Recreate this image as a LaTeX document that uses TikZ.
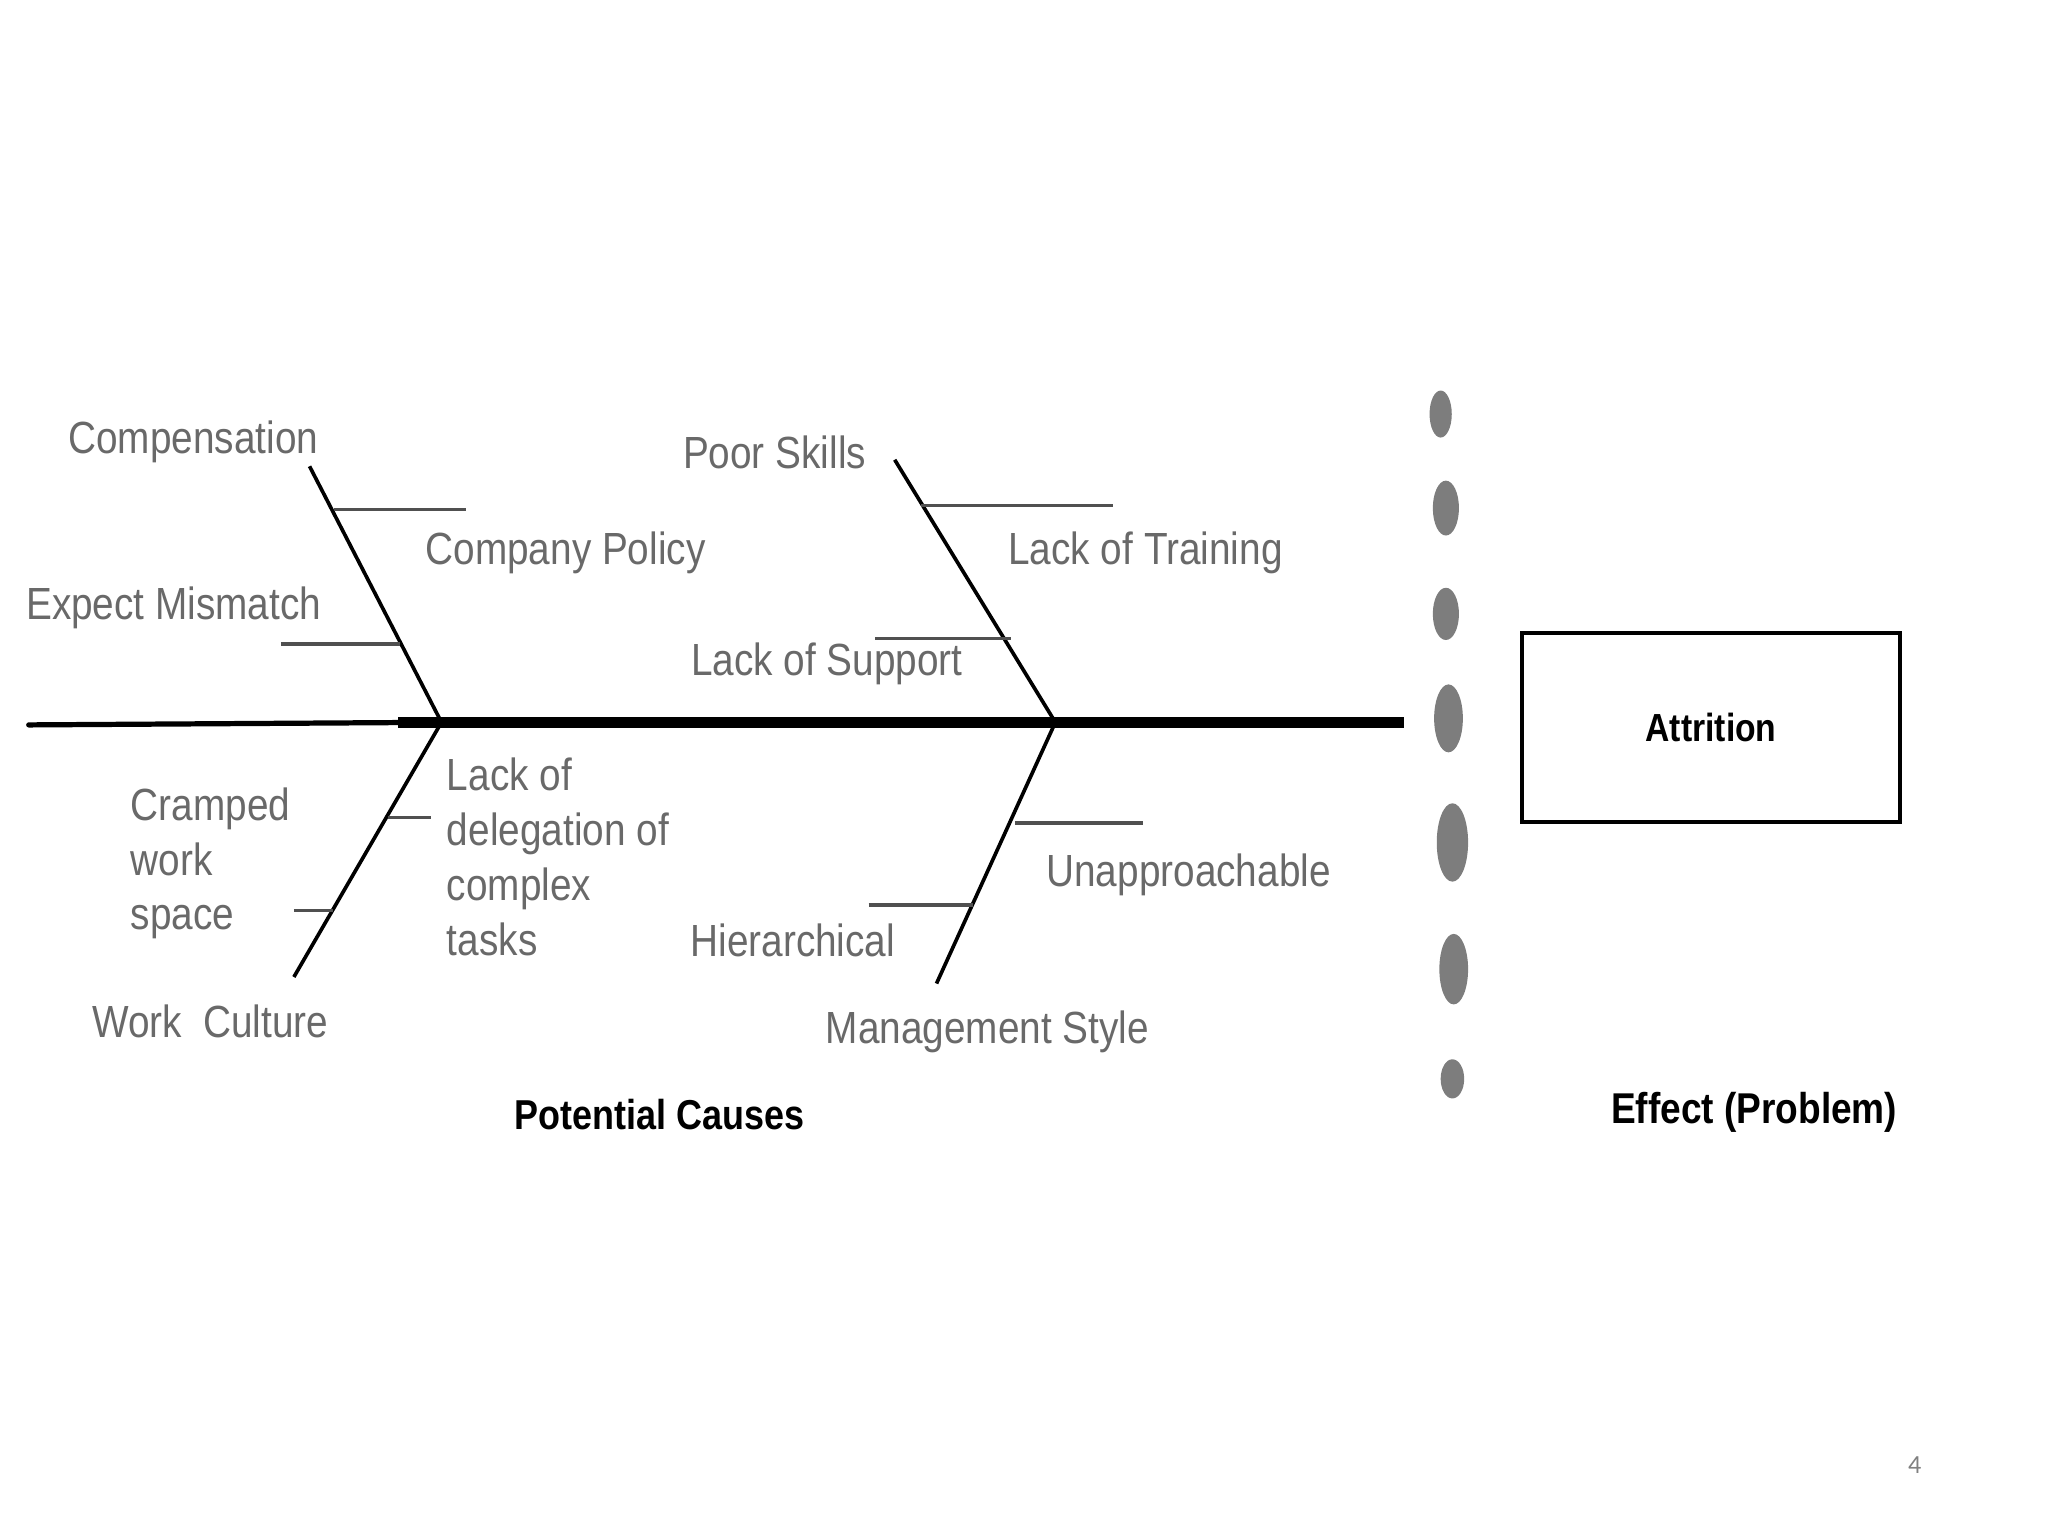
\documentclass[tikz,border=0pt]{standalone}
\usepackage{fontspec}
\setmainfont{Liberation Sans}
\newfontfamily\lblfont[FakeStretch=0.86]{Liberation Sans}
\newfontfamily\pgfont{Carlito}
\definecolor{labelgray}{RGB}{105,105,105}
\definecolor{tickgray}{RGB}{80,80,80}
\definecolor{blobgray}{RGB}{125,125,125}
\begin{document}
\begin{tikzpicture}[x=1pt,y=-1pt,
  lbl/.style={text=labelgray,font=\lblfont\fontsize{34.5}{42}\selectfont,inner sep=0pt},
  bold/.style={text=black,font=\lblfont\bfseries\fontsize{32}{40}\selectfont,inner sep=0pt},
  bone/.style={line width=2.8pt,black},
  rib/.style={line width=2.6pt,tickgray},
  blob/.style={fill=blobgray,draw=none}]
\useasboundingbox (0,0) rectangle (1568,1176);
% spine
\coordinate (sL) at (22,555);
\coordinate (sM) at (305,553);
\coordinate (sJ1) at (338,553);
\coordinate (sJ2) at (808,553);
\coordinate (sR) at (1075,553);
\draw[line width=4pt,line cap=round] (sL) -- (sJ1);
\draw[line width=8pt] (sM) -- (sR);
% branch ends
\coordinate (b1) at (237,357);
\coordinate (b2) at (685,352);
\coordinate (b3) at (225,748);
\coordinate (b4) at (717,753);
\draw[bone] (b1) -- (sJ1);
\draw[bone] (b2) -- (sJ2);
\draw[bone] (b3) -- (sJ1);
\draw[bone] (b4) -- (sJ2);
% ribs
\coordinate (r1a) at (256,390); \coordinate (r1b) at (357,390);
\coordinate (r2a) at (215,493); \coordinate (r2b) at (306,493);
\coordinate (r3a) at (705,387); \coordinate (r3b) at (852,387);
\coordinate (r4a) at (670,489); \coordinate (r4b) at (774,489);
\coordinate (r5a) at (297,626); \coordinate (r5b) at (330,626);
\coordinate (r6a) at (225,697); \coordinate (r6b) at (255,697);
\coordinate (r7a) at (777,630); \coordinate (r7b) at (875,630);
\coordinate (r8a) at (665,693); \coordinate (r8b) at (745,693);
\foreach \a/\b in {r1a/r1b,r2a/r2b,r3a/r3b,r4a/r4b,r5a/r5b,r6a/r6b,r7a/r7b,r8a/r8b}
  \draw[rib] (\a) -- (\b);
% labels
\node[lbl] (comp) at (148,338) {Compensation};
\node[lbl] (cpol) at (433,423) {Company Policy};
\node[lbl] (expm) at (133,465) {Expect Mismatch};
\node[lbl] (poor) at (593,346) {Poor Skills};
\node[lbl] (ltrn) at (877,423) {Lack of Training};
\node[lbl] (lsup) at (633,508) {Lack of Support};
\node[lbl,anchor=west,align=left] (ldel) at (342,656) {Lack of\\delegation of\\complex\\tasks};
\node[lbl,anchor=west,align=left] (cram) at (100,661) {Cramped\\work\\space};
\node[lbl] (wcul) at (161,782) {Work\ \ Culture};
\node[lbl] (unap) at (910,670) {Unapproachable};
\node[lbl] (hier) at (607,720) {Hierarchical};
\node[lbl] (mgmt) at (756,790) {Management Style};
\node[bold] (pot) at (505,853) {Potential Causes};
% dotted separator
\foreach \x/\y/\w/\h [count=\i] in {1103/317/17/36,1107/389/20/42,1107/470/20/40,1109/550/22/52,1112/645/24/60,1113/742/22/54,1112/826/18/30}
  \fill[blob] (\x,\y) ellipse [x radius=\w/2, y radius=\h/2];
% effect box
\node[draw=black,line width=3pt,minimum width=289pt,minimum height=145pt,inner sep=0pt] (box) at (1310,557) {};
\node[bold,font=\lblfont\bfseries\fontsize{30}{36}\selectfont] (attr) at (box.center) {Attrition};
\node[bold,font=\lblfont\bfseries\fontsize{33}{40}\selectfont] (eff) at (1343,852) {Effect (Problem)};
\node[text=gray,font=\pgfont\fontsize{20}{24}\selectfont] (pg) at (1466,1122) {4};
\end{tikzpicture}
\end{document}
